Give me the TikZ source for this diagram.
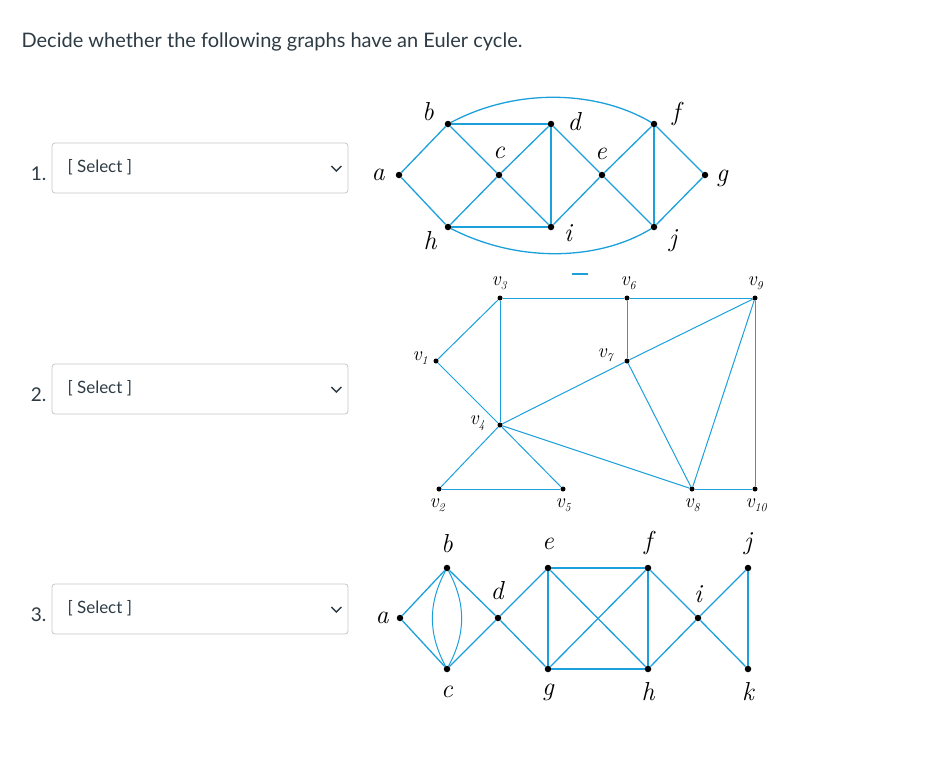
\documentclass[tikz,border=0pt]{standalone}
\usepackage{fontspec}
\setmainfont{Lato}
\newfontfamily\lmfont{Latin Modern Roman}
\definecolor{eb}{HTML}{1CA0DC}
\definecolor{tx}{HTML}{2D3B45}
\newcommand\vlab[1]{v\raisebox{-4pt}{\fontsize{12}{12}\selectfont #1}}
\begin{document}
\begin{tikzpicture}[x=1pt,y=-1pt,
 v/.style={circle,fill=black,inner sep=0pt,minimum size=6.5pt},
 v2/.style={circle,fill=black,inner sep=0pt,minimum size=5pt},
 e/.style={draw=eb,line width=1.3pt},
 e2/.style={draw=eb,line width=1pt},
 lb/.style={font=\lmfont\itshape\fontsize{26}{26}\selectfont},
 lb2/.style={font=\lmfont\itshape\fontsize{20}{20}\selectfont},
 sel/.style={draw=black!22,rounded corners=3pt,minimum width=296pt,minimum height=50pt,line width=0.8pt},
 seltext/.style={text=tx,font=\fontsize{17}{17}\selectfont,anchor=west},
 num/.style={text=tx,font=\fontsize{19}{19}\selectfont,anchor=east}]
\useasboundingbox (0,0) rectangle (934,756);
\node[anchor=west,text=tx,font=\fontsize{20}{20}\selectfont] (title) at (18,42) {Decide whether the following graphs have an Euler cycle.};
\foreach \n/\y in {1/168,2/389,3/609}{
 \node[sel] (box\n) at (200,\y) {};
 \node[num] (num\n) at (50,\y+6) {\n.};
 \node[seltext] (st\n) at (64,\y-1) {[ Select ]};
 \draw[tx,line width=1.3pt] ([xshift=-17,yshift=2]box\n.east) -- ([xshift=-12,yshift=-3]box\n.east) -- ([xshift=-7,yshift=2]box\n.east);
}
% graph 1
\node[v] (a) at (399,175) {}; \node[v] (b) at (448,124) {}; \node[v] (d) at (551,124) {};
\node[v] (c) at (499,175) {}; \node[v] (e) at (602,175) {}; \node[v] (f) at (654,124) {};
\node[v] (g) at (705,175) {}; \node[v] (h) at (448,227) {}; \node[v] (i) at (551,227) {};
\node[v] (j) at (654,227) {};
\begin{scope}[lb]
\node (la) at (378,175) {a}; \node (lb) at (428,112) {b}; \node (lc) at (499,153) {c};
\node (ld) at (574,122) {d}; \node (le) at (601,154) {e}; \node (lf) at (676,114) {f};
\node (lg) at (722,178) {g}; \node (lh) at (430,241) {h}; \node (li) at (568,233) {i};
\node (lj) at (673,241) {j};
\end{scope}
\foreach \p/\q in {a/b,a/h,b/d,b/c,h/c,h/i,c/d,c/i,d/i,d/e,i/e,e/f,e/j,f/j,f/g,j/g}
 \draw[e] (\p)--(\q);
\draw[e] (b) .. controls (520,86) and (600,92) .. (f);
\draw[e] (h) .. controls (520,264) and (600,260) .. (j);
% graph 2
\node[v2] (v1) at (436,361) {}; \node[v2] (v2) at (439,489) {};
\node[v2] (v3) at (500,298) {}; \node[v2] (v4) at (500,425) {};
\node[v2] (v5) at (563,489) {}; \node[v2] (v6) at (627,298) {};
\node[v2] (v7) at (627,361) {}; \node[v2] (v8) at (692,489) {};
\node[v2] (v9) at (755,298) {}; \node[v2] (v10) at (755,489) {};
\begin{scope}[lb2]
\node (l1) at (420,358) {\vlab{1}}; \node (l2) at (437,505) {\vlab{2}}; \node (l3) at (499,283) {\vlab{3}};
\node (l4) at (477,423) {\vlab{4}}; \node (l5) at (563,505) {\vlab{5}}; \node (l6) at (628,283) {\vlab{6}};
\node (l7) at (605,355) {\vlab{7}}; \node (l8) at (692,505) {\vlab{8}}; \node (l9) at (755,283) {\vlab{9}};
\node (l10) at (756,505) {\vlab{10}};
\end{scope}
\foreach \p/\q in {v3/v6,v6/v9,v3/v1,v1/v4,v3/v4,v6/v7,v7/v9,v7/v4,v7/v8,v9/v8,v9/v10,v4/v2,v4/v5,v4/v8,v2/v5,v8/v10}
 \draw[e2] (\p)--(\q);
\coordinate (m1) at (572,274); \coordinate (m2) at (588,274);
\draw[eb,line width=1.5pt] (m1) -- (m2);
% graph 3
\node[v] (A) at (400,618) {}; \node[v] (B) at (447,568) {}; \node[v] (C) at (447,669) {};
\node[v] (D) at (498,618) {}; \node[v] (E) at (548,568) {}; \node[v] (F) at (648,568) {};
\node[v] (G) at (548,669) {}; \node[v] (H) at (648,669) {}; \node[v] (I) at (698,618) {};
\node[v] (J) at (748,568) {}; \node[v] (K) at (748,669) {};
\begin{scope}[lb]
\node (LA) at (382,618) {a}; \node (LB) at (447,544) {b}; \node (LC) at (447,692) {c};
\node (LD) at (497,591) {d}; \node (LE) at (548,544) {e}; \node (LF) at (648,543) {f};
\node (LG) at (548,692) {g}; \node (LH) at (648,692) {h}; \node (LI) at (698,594) {i};
\node (LJ) at (748,544) {j}; \node (LK) at (748,692) {k};
\end{scope}
\foreach \p/\q in {A/B,A/C,B/D,C/D,D/E,D/G,E/F,E/G,E/H,G/F,F/H,G/H,F/I,H/I,I/J,I/K,J/K}
 \draw[e] (\p)--(\q);
\draw[e2] (B) to[bend right=28] (C);
\draw[e2] (B) to[bend left=28] (C);
\end{tikzpicture}
\end{document}
